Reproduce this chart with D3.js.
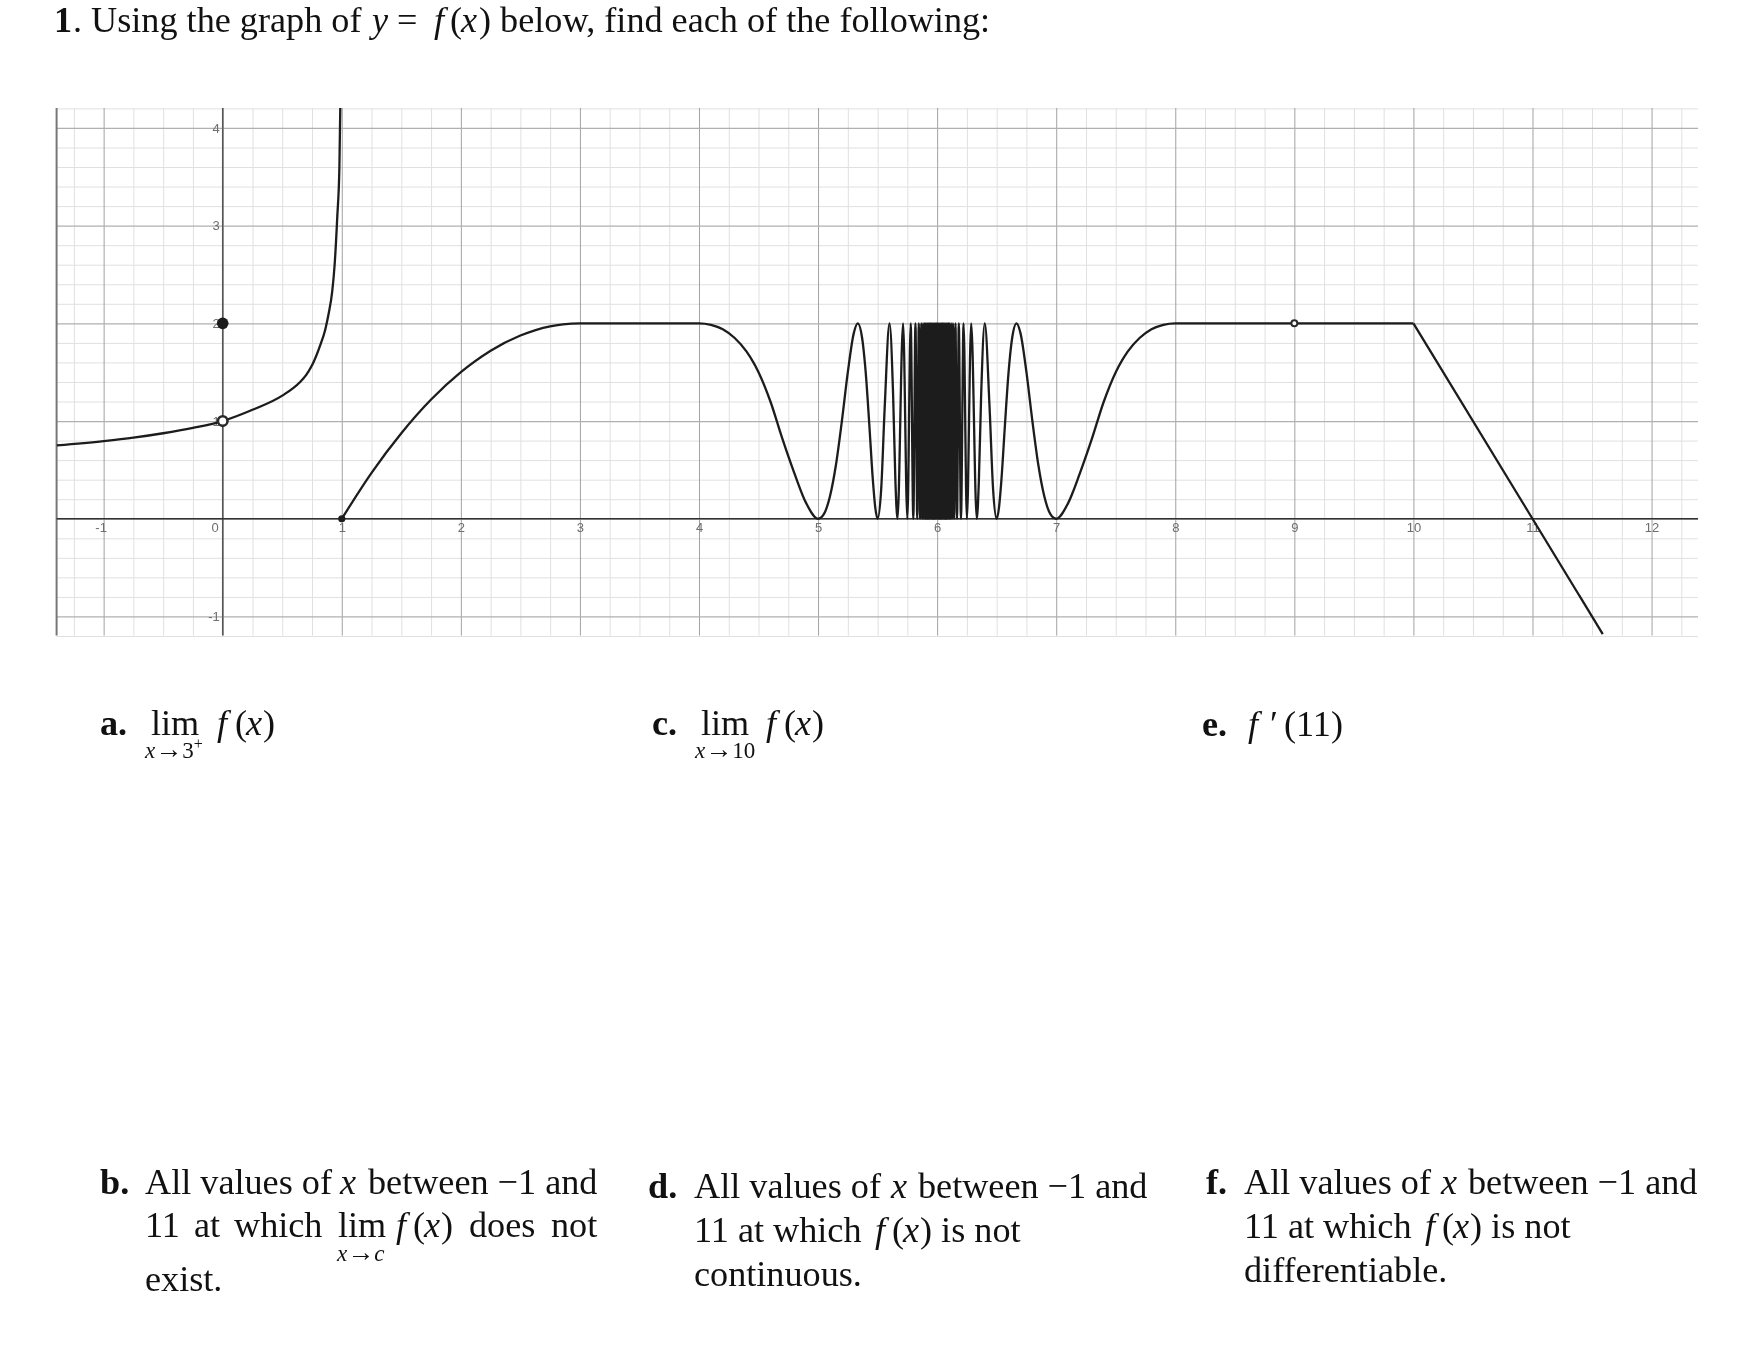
<!DOCTYPE html>
<html><head><meta charset="utf-8">
<script src="https://cdn.jsdelivr.net/npm/d3@7"></script>
<style>
html,body{margin:0;padding:0;background:#fff}
svg{display:block}
.doc text{font-family:"Liberation Serif",serif;fill:#111;font-size:36.2px;white-space:pre}
.tick text{font-family:"Liberation Sans",Arial,sans-serif;font-size:13px;fill:#6e6e6e}
</style></head><body>
<svg id="c" width="1745" height="1355"></svg>
<script>
// ---- tick labels ----
const xTickLabels = [-1,0,1,2,3,4,5,6,7,8,9,10,11,12];
const yTickLabels = [-1,1,2,3,4];
const xMajor = [-1,0,1,2,3,4,5,6,7,8,9,10,11,12];
const yMajor = [-1,0,1,2,3,4];
const xMinor = [-1.25,-0.75,-0.5,-0.25,0.25,0.5,0.75,1.25,1.5,1.75,2.25,2.5,2.75,3.25,3.5,3.75,4.25,4.5,4.75,5.25,5.5,5.75,6.25,6.5,6.75,7.25,7.5,7.75,8.25,8.5,8.75,9.25,9.5,9.75,10.25,10.5,10.75,11.25,11.5,11.75,12.25];
const yMinor = [-1.2,-0.8,-0.6,-0.4,-0.2,0.2,0.4,0.6,0.8,1.2,1.4,1.6,1.8,2.2,2.4,2.6,2.8,3.2,3.4,3.6,3.8,4.2];

// ---- curve: left branch up to the vertical asymptote ----
const leftX = [-1.395,-1,-0.75,-0.5,-0.25,0,0.25,0.5,0.65,0.7,0.75,0.82,0.86,0.89,0.92,0.94,0.9626,0.98,0.988];
const leftY = [0.75,0.795,0.83,0.875,0.93,1,1.115,1.26,1.4,1.47,1.57,1.78,1.93,2.1,2.33,2.6,3.1,3.6,4.25];

// ---- curve: rising arc, plateau and the slide to x=5 ----
const arcX = [1,1.25,1.5,1.75,2,2.25,2.5,2.75,3,4,4.1,4.2,4.3,4.4,4.5,4.6,4.7,4.8,4.9,5];
const arcY = [0,0.47,0.875,1.22,1.5,1.72,1.875,1.97,2,2,1.985,1.94,1.85,1.71,1.5,1.2,0.82,0.47,0.16,0];

// ---- curve: oscillation approaching x=6 from the left ----
const oscLX = [5.05,5.1,5.15,5.2,5.25,5.3,5.333,5.37,5.4,5.43,5.46,5.48,5.5,5.53,5.56,5.6,5.63,5.65,5.667,5.714,5.75,5.778,5.8,5.818,5.833,5.846,5.857,5.867,5.875,5.882,5.889,5.895,5.9];
const oscLY = [0.05,0.23,0.55,1,1.5,1.9,2,1.85,1.5,0.97,0.4,0.12,0,0.3,1.15,2,1.28,0.37,0,2,0,2,0,2,0,2,0,2,0,2,0,2,0];

// ---- curve: the solid burst around x=6 (turning points) ----
const burstX = [5.905,5.91,5.915,5.92,5.925,5.93,5.935,5.94,5.945,5.95,5.955,5.96,5.965,5.97,5.975,5.98,5.985,5.99,5.995,6,6.005,6.01,6.015,6.02,6.025,6.03,6.035,6.04,6.045,6.05,6.055,6.06,6.065,6.07,6.075,6.08,6.085,6.09,6.095];
const burstY = [2,0,2,0,2,0,2,0,2,0,2,0,2,0,2,0,2,0,2,0,2,0,2,0,2,0,2,0,2,0,2,0,2,0,2,0,2,0,2];

// ---- curve: oscillation leaving x=6 and climb to the plateau ----
const oscRX = [6.1,6.105,6.111,6.118,6.125,6.133,6.143,6.154,6.167,6.182,6.2,6.222,6.25,6.286,6.333,6.35,6.37,6.4,6.44,6.47,6.5,6.52,6.54,6.57,6.6,6.63,6.667,6.7,6.75,6.8,6.85,6.9,6.95,7];
const oscRY = [0,2,0,2,0,2,0,2,0,2,0,2,0,2,0,0.37,1.28,2,1.15,0.3,0,0.12,0.4,0.97,1.5,1.85,2,1.9,1.5,1,0.55,0.23,0.05,0];
const riseX = [7.1,7.2,7.3,7.4,7.5,7.6,7.7,7.8,7.9,8,9,10];
const riseY = [0.16,0.47,0.82,1.2,1.5,1.71,1.85,1.94,1.985,2,2,2];

// ---- curve: straight descent ----
const lineX = [10,11,11.59];
const lineY = [2,0,-1.18];

// ---- marked points ----
const filledPts = [[0,2,5.8],[1,0,3.6]];
const openPts   = [[0,1,4.8,2.6],[9,2,3,2]];

// ---- document text ----
const T = (t,x,y,o) => Object.assign({t,x,y},o||{});
const B = {weight:"bold"}, I = {italic:true};
const sub = parts => ({parts});
const docText = [
  T("1",54,32,B), T(". Using the graph of",73,32), T("y",372,32,I), T("=",397,32), T("f",434,32,I), T("(",450,32), T("x",461,32,I), T(") below, find each of the following:",479,32),
  T("a.",100,735,B), T("lim",151,735), T("f",217,735,I), T("(",235,735), T("x",246,735,I), T(")",263,735),
  T("",145,758,sub([["x",23,true,0],["→",27,false,0],["3",23,false,0],["+",16,false,-9]])),
  T("c.",652,735,B), T("lim",701,735), T("f",766,735,I), T("(",784,735), T("x",795,735,I), T(")",812,735),
  T("",695,758,sub([["x",23,true,0],["→",27,false,0],["10",23,false,0]])),
  T("e.",1202,736,B), T("f",1248,736,I), T("′",1270,736), T("(11)",1284,736),
  T("b.",100,1194,B), T("All values of",145,1194), T("x",340,1194,I), T("between −1 and",368,1194),
  T("11",145,1237), T("at",194,1237), T("which",234,1237), T("lim",338,1237), T("f",396,1237,I), T("(",413,1237), T("x",424,1237,I), T(")",441,1237), T("does",469,1237), T("not",551,1237),
  T("",337,1261,sub([["x",23,true,0],["→",27,false,0],["c",23,true,0]])),
  T("exist.",145,1291),
  T("d.",648,1198,B), T("All values of",694,1198), T("x",891,1198,I), T("between −1 and",918,1198),
  T("11 at which",694,1242), T("f",875,1242,I), T("(",892,1242), T("x",903,1242,I), T(") is not",920,1242),
  T("continuous.",694,1286),
  T("f.",1206,1194,B), T("All values of",1244,1194), T("x",1441,1194,I), T("between −1 and",1468,1194),
  T("11 at which",1244,1238), T("f",1425,1238,I), T("(",1442,1238), T("x",1453,1238,I), T(") is not",1470,1238),
  T("differentiable.",1244,1282)
];

// ---- drawing ----
const svg = d3.select("#c");
const L = 56.6, R = 1698, Tp = 108, Bt = 635.6;
const x = d3.scaleLinear().domain([-1.395,12.39]).range([L,R]);
const y = d3.scaleLinear().domain([4.204,-1.196]).range([Tp,Bt]);

const defs = svg.append("defs");
defs.append("clipPath").attr("id","plot").append("rect").attr("x",L).attr("y",Tp).attr("width",R-L).attr("height",Bt-Tp);
defs.append("filter").attr("id","soft").append("feGaussianBlur").attr("stdDeviation",0.35);

const g = svg.append("g").attr("filter","url(#soft)");
const vGrid = (vals,stroke,w) => g.append("g").attr("transform",`translate(0,${Bt})`)
  .call(d3.axisTop(x).tickValues(vals).tickSize(Bt-Tp).tickFormat(""))
  .call(s=>s.select(".domain").remove())
  .call(s=>s.selectAll("line").attr("stroke",stroke).attr("stroke-width",w));
const hGrid = (vals,stroke,w) => g.append("g").attr("transform",`translate(${L},0)`)
  .call(d3.axisRight(y).tickValues(vals).tickSize(R-L).tickFormat(""))
  .call(s=>s.select(".domain").remove())
  .call(s=>s.selectAll("line").attr("stroke",stroke).attr("stroke-width",w));
vGrid(xMinor,"#e0e0e0",1); hGrid(yMinor,"#e0e0e0",1);
vGrid(xMajor,"#a2a2a2",1); hGrid(yMajor,"#b0b0b0",1.2);

// axes lines
g.append("line").attr("x1",L).attr("x2",L).attr("y1",Tp).attr("y2",Bt).attr("stroke","#777").attr("stroke-width",2);
g.append("line").attr("x1",x(0)).attr("x2",x(0)).attr("y1",Tp).attr("y2",Bt).attr("stroke","#555").attr("stroke-width",1.5);
g.append("line").attr("x1",L).attr("x2",R).attr("y1",y(0)).attr("y2",y(0)).attr("stroke","#333").attr("stroke-width",1.5);

// tick labels through d3 axes
const xa = g.append("g").attr("transform",`translate(0,${y(0)})`)
  .call(d3.axisBottom(x).tickValues(xTickLabels).tickSize(0).tickPadding(4).tickFormat(d=>String(d)));
xa.select(".domain").remove();
xa.selectAll("text").attr("dx",d=>d===0?-8:d===-1?-3:0).attr("font-family",null);
const ya = g.append("g").attr("transform",`translate(${x(0)},0)`)
  .call(d3.axisLeft(y).tickValues(yTickLabels).tickSize(0).tickPadding(3).tickFormat(d=>String(d)));
ya.select(".domain").remove();
ya.selectAll("text").attr("font-family",null);

// curves
const zip = (a,b) => a.map((v,i)=>[v,b[i]]);
const line = d3.line().x(d=>x(d[0])).y(d=>y(d[1])).curve(d3.curveMonotoneX);
const straight = d3.line().x(d=>x(d[0])).y(d=>y(d[1]));
const plot = g.append("g").attr("clip-path","url(#plot)").attr("fill","none").attr("stroke","#1c1c1c").attr("stroke-width",2.3).attr("stroke-linejoin","round");
plot.append("path").attr("d",line(zip(leftX,leftY)));
plot.append("path").attr("d",line(zip(arcX,arcY).concat(zip(oscLX,oscLY),zip(burstX,burstY),zip(oscRX,oscRY),zip(riseX,riseY))));
plot.append("path").attr("d",straight(zip(lineX,lineY)));

// points
g.selectAll("circle.f").data(filledPts).join("circle").attr("class","f")
  .attr("cx",d=>x(d[0])).attr("cy",d=>y(d[1])).attr("r",d=>d[2]).attr("fill","#1c1c1c");
g.selectAll("circle.o").data(openPts).join("circle").attr("class","o")
  .attr("cx",d=>x(d[0])).attr("cy",d=>y(d[1])).attr("r",d=>d[2]).attr("fill","#fff").attr("stroke","#2a2a2a").attr("stroke-width",d=>d[3]);

// document text
const texts = svg.append("g").attr("class","doc").selectAll("text").data(docText).join("text")
  .attr("x",d=>d.x).attr("y",d=>d.y).text(d=>d.parts?null:d.t)
  .attr("font-weight",d=>d.weight||null)
  .attr("font-style",d=>d.italic?"italic":null);
texts.filter(d=>d.parts).each(function(d){
  let prev = 0;
  d.parts.forEach(([s,size,ital,shift])=>{
    d3.select(this).append("tspan").text(s).style("font-size",size+"px")
      .attr("font-style",ital?"italic":null).attr("dy",shift-prev);
    prev = shift;
  });
});
</script>
</body></html>
